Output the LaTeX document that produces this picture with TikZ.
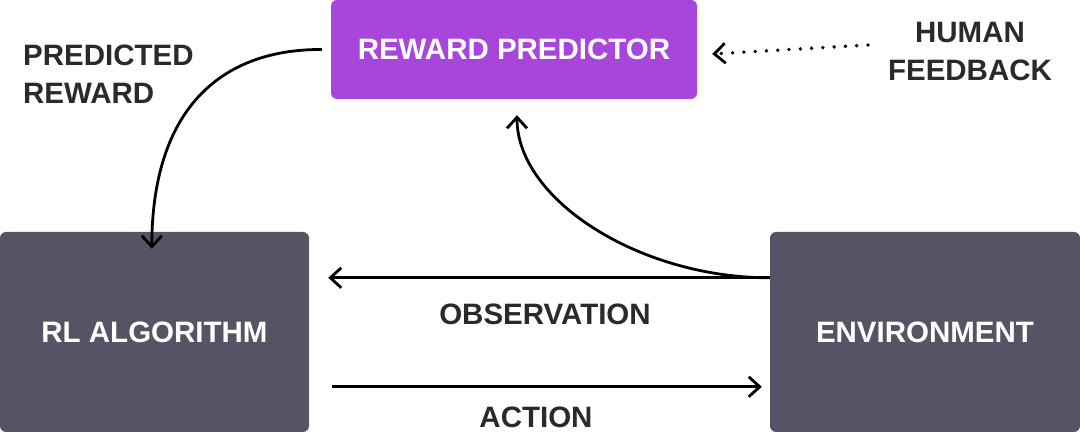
\documentclass[tikz,border=0pt]{standalone}
\usepackage{fontspec}
\setmainfont{Liberation Sans}
\usetikzlibrary{arrows.meta}
\definecolor{boxgray}{HTML}{555465}
\definecolor{rppurple}{HTML}{A846DC}
\definecolor{labeltext}{HTML}{2A2A2A}
\tikzset{
  box/.style={rectangle, rounded corners=6pt, inner sep=0pt, text=white,
    font=\fontsize{29.5}{36}\selectfont\bfseries},
  lbl/.style={inner sep=0pt, text=labeltext, font=\fontsize{29.5}{38}\selectfont\bfseries},
  conn/.style={line width=2.8pt, -{Straight Barb[length=11pt,width=20pt,line width=2.8pt]}},
}
\begin{document}
\begin{tikzpicture}[x=1pt,y=-1pt]
\useasboundingbox (0,0) rectangle (1080,435);
\node[box, fill=rppurple, minimum width=366pt, minimum height=99pt] (rp) at (514,49.5) {REWARD PREDICTOR};
\node[box, fill=boxgray, minimum width=309pt, minimum height=200pt] (rl) at (154.5,332) {RL ALGORITHM};
\node[box, fill=boxgray, minimum width=310pt, minimum height=200pt] (env) at (925,332) {ENVIRONMENT};

\node[lbl, align=left, anchor=north west] (pr) at (23,45) {PREDICTED\\REWARD};
\node[lbl, align=center, anchor=north] (hf) at (970,22) {HUMAN\\FEEDBACK};
\node[lbl, anchor=base] (obs) at (545,325) {OBSERVATION};
\node[lbl, anchor=base] (act) at (536,428) {ACTION};

\coordinate (hfstart) at (868,45);

% observation
\draw[conn] ([yshift=-46pt]env.north west) -- ([xshift=19pt,yshift=-46pt]rl.north east);
% action
\draw[conn] ([xshift=23pt,yshift=-155pt]rl.north east) -- ([xshift=-8pt,yshift=-155pt]env.north west);
% environment to reward predictor
\draw[conn] ([yshift=-46pt]env.north west) .. controls (640,278) and (517,200) .. ([xshift=3pt,yshift=-16pt]rp.south);
% predicted reward
\draw[conn] ([xshift=-9pt]rp.west) .. controls (220,49) and (152,110) .. ([xshift=152pt,yshift=-17pt]rl.north west);
% human feedback
\draw[line width=3.8pt, line cap=round, dash pattern=on 0pt off 11.3pt,
  -{Straight Barb[length=11pt,width=20pt,line width=2.8pt]}] (hfstart) -- ([xshift=15pt,yshift=-4.5pt]rp.east);
\end{tikzpicture}
\end{document}
